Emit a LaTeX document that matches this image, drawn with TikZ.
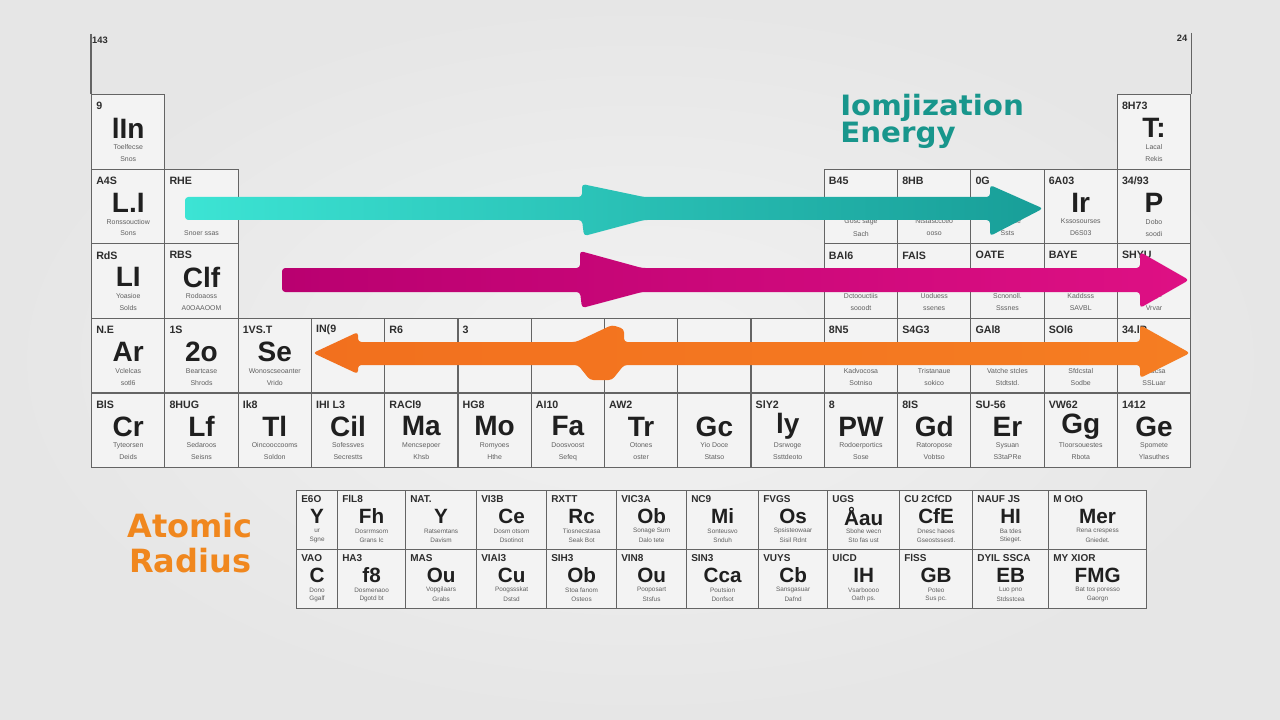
\documentclass[tikz,border=0pt]{standalone}
\usepackage{fontspec}
\setmainfont{Liberation Sans}
\newfontfamily\titlefont{DejaVu Sans}
\usetikzlibrary{calc}
\definecolor{bgc}{RGB}{230,230,230}
\definecolor{bgin}{RGB}{242,242,242}
\definecolor{cellfill}{RGB}{243,243,243}
\definecolor{cellline}{RGB}{100,100,100}
\definecolor{lblc}{RGB}{45,45,45}
\definecolor{dscc}{RGB}{95,95,95}
\definecolor{tealA}{RGB}{60,228,212}
\definecolor{tealB}{RGB}{26,182,170}
\definecolor{tealC}{RGB}{24,158,152}
\definecolor{magA}{RGB}{185,0,112}
\definecolor{magB}{RGB}{200,5,122}
\definecolor{magC}{RGB}{222,16,132}
\definecolor{orA}{RGB}{242,112,30}
\definecolor{orB}{RGB}{245,125,34}
\definecolor{titleteal}{RGB}{24,150,140}
\definecolor{titleorange}{RGB}{240,135,30}
\tikzset{
  cellbox/.style={draw=cellline, fill=cellfill, line width=0.9pt, inner sep=0pt, anchor=north west},
  lbl/.style={anchor=west, inner sep=0pt, text=lblc, font=\bfseries\fontsize{8}{9}\selectfont},
  sym/.style={inner sep=0pt, text=black!88, font=\bfseries\fontsize{21}{22}\selectfont},
  dsc/.style={inner sep=0pt, text=dscc, font=\fontsize{5.2}{6}\selectfont},
  blbl/.style={anchor=west, inner sep=0pt, text=lblc, font=\bfseries\fontsize{7.5}{8}\selectfont},
  bsym/.style={inner sep=0pt, text=black!88, font=\bfseries\fontsize{15.5}{16}\selectfont},
  bdsc/.style={inner sep=0pt, text=dscc, font=\fontsize{4.8}{5}\selectfont},
  topnum/.style={inner sep=0pt, text=lblc, font=\bfseries\fontsize{7}{8}\selectfont},
  frame/.style={draw=cellline, line width=0.9pt},
  ttl/.style={anchor=base west, inner sep=0pt, text=titleteal, font=\titlefont\bfseries\fontsize{20}{22}\selectfont},
  rtl/.style={anchor=base west, inner sep=0pt, text=titleorange, font=\titlefont\bfseries\fontsize{24}{26}\selectfont},
}
% main grid cell: name, col, row, label, symbol, desc1, desc2
\newcommand\pcell[7]{%
  \node[cellbox, minimum width=73.27*0.75pt, minimum height=74.6*0.75pt] (#1) at ({91+73.27*(#2-1)},{94+74.6*(#3-1)}) {};
  \node[lbl] (#1-l) at ($(#1.north west)+(5,12)$) {#4};
  \node[sym] (#1-s) at ($(#1.north)+(0,34)$) {#5};
  \node[dsc] (#1-a) at ($(#1.north)+(0,53)$) {#6};
  \node[dsc] (#1-b) at ($(#1.north)+(0,65)$) {#7};
}
% bottom table cell: name, x0, x1, row, label, symbol, desc1, desc2
\newcommand\bcell[8]{%
  \node[cellbox, minimum width=(#3-#2)*0.75pt, minimum height=59*0.75pt] (#1) at (#2,{490+59*(#4-1)}) {};
  \node[blbl] (#1-l) at ($(#1.north west)+(5,9)$) {#5};
  \node[bsym] (#1-s) at ($(#1.north)+(0,26)$) {#6};
  \node[bdsc] (#1-a) at ($(#1.north)+(0,41)$) {#7};
  \node[bdsc] (#1-b) at ($(#1.north)+(0,50)$) {#8};
}
\begin{document}
\begin{tikzpicture}[x=0.75pt,y=-0.75pt]
\useasboundingbox (0,0) rectangle (1280,720);
\shade[inner color=bgin, outer color=bgc] (0,0) rectangle (1280,720);

% ---- main grid ----
\pcell{r1c1}{1}{1}{9}{lIn}{Toelfecse}{Snos}
\pcell{r1c15}{15}{1}{8H73}{T:}{Lacal}{Rekis}

\pcell{r2c1}{1}{2}{A4S}{L.I}{Ronssouctiow}{Sons}
\pcell{r2c2}{2}{2}{RHE}{}{}{Snoer ssas}
\pcell{r2c11}{11}{2}{B45}{}{Gosc sage}{Sach}
\pcell{r2c12}{12}{2}{8HB}{}{Ntstasccceo}{ooso}
\pcell{r2c13}{13}{2}{0G}{}{Nsescoe}{Ssts}
\pcell{r2c14}{14}{2}{6A03}{Ir}{Kssosourses}{D6S03}
\pcell{r2c15}{15}{2}{34/93}{P}{Dobo}{soodi}

\pcell{r3c1}{1}{3}{RdS}{LI}{Yoasioe}{Solds}
\pcell{r3c2}{2}{3}{RBS}{Clf}{Rodoaoss}{A0OAAOOM}
\pcell{r3c11}{11}{3}{BAl6}{}{Dctoouctiis}{sooodt}
\pcell{r3c12}{12}{3}{FAlS}{}{Uoduess}{ssenes}
\pcell{r3c13}{13}{3}{OATE}{}{Scnonoll.}{Sssnes}
\pcell{r3c14}{14}{3}{BAYE}{}{Kaddsss}{SAVBL}
\pcell{r3c15}{15}{3}{SHYU}{}{Sogs}{Vrvar}

\pcell{r4c1}{1}{4}{N.E}{Ar}{Vclelcas}{sotl6}
\pcell{r4c2}{2}{4}{1S}{2o}{Beartcase}{Shrods}
\pcell{r4c3}{3}{4}{1VS.T}{Se}{Wonoscseoanter}{Vrido}
\pcell{r4c4}{4}{4}{IN(9}{}{}{}
\pcell{r4c5}{5}{4}{R6}{}{}{}
\pcell{r4c6}{6}{4}{3}{}{}{}
\pcell{r4c7}{7}{4}{}{}{}{}
\pcell{r4c8}{8}{4}{}{}{}{}
\pcell{r4c9}{9}{4}{}{}{}{}
\pcell{r4c10}{10}{4}{}{}{}{}
\pcell{r4c11}{11}{4}{8N5}{}{Kadvocosa}{Sotniso}
\pcell{r4c12}{12}{4}{S4G3}{}{Tristanaue}{sokico}
\pcell{r4c13}{13}{4}{GAl8}{}{Vatche stcles}{Stdtstd.}
\pcell{r4c14}{14}{4}{SOl6}{}{Sfdcstal}{Sodbe}
\pcell{r4c15}{15}{4}{34.lP}{}{Sodcsa}{SSLuar}

\pcell{r5c1}{1}{5}{BlS}{Cr}{Tyteorsen}{Deids}
\pcell{r5c2}{2}{5}{8HUG}{Lf}{Sedaroos}{Seisns}
\pcell{r5c3}{3}{5}{Ik8}{Tl}{Oincooccooms}{Soldon}
\pcell{r5c4}{4}{5}{IHI L3}{Cil}{Sofessves}{Secrestts}
\pcell{r5c5}{5}{5}{RACl9}{Ma}{Mencsepoer}{Khsb}
\pcell{r5c6}{6}{5}{HG8}{Mo}{Romyoes}{Hthe}
\pcell{r5c7}{7}{5}{AI10}{Fa}{Doosvoost}{Sefeq}
\pcell{r5c8}{8}{5}{AW2}{Tr}{Otones}{oster}
\pcell{r5c9}{9}{5}{}{Gc}{Yio Doce}{Statso}
\pcell{r5c10}{10}{5}{SlY2}{ly}{Dsrwoge}{Ssttdeoto}
\pcell{r5c11}{11}{5}{8}{PW}{Rodoerportics}{Sose}
\pcell{r5c12}{12}{5}{8IS}{Gd}{Ratoropose}{Vobtso}
\pcell{r5c13}{13}{5}{SU-56}{Er}{Sysuan}{S3taPRe}
\pcell{r5c14}{14}{5}{VW62}{Gg}{Tloorsouestes}{Rbota}
\pcell{r5c15}{15}{5}{1412}{Ge}{Spomete}{Ylasuthes}

% top markers
\path (r1c1.north west) ++(0,-60) coordinate (tl);
\path (r1c15.north east) ++(0,-61) coordinate (tr);
\draw[frame] (tl) -- (r1c1.north west);
\draw[frame] (tr) -- (r1c15.north east);
\node[topnum] (n143) at (100,40.5) {143};
\node[topnum] (n24) at (1182,38.5) {24};

% ---- bottom table ----
\bcell{b1c1}{296}{337}{1}{E6O}{Y}{ur}{Sgne}
\bcell{b1c2}{337}{405}{1}{FlL8}{Fh}{Dosrrmsom}{Grans Ic}
\bcell{b1c3}{405}{476}{1}{NAT.}{Y}{Ratsemtans}{Davism}
\bcell{b1c4}{476}{546}{1}{VI3B}{Ce}{Dosm otsom}{Dsotinot}
\bcell{b1c5}{546}{616}{1}{RXTT}{Rc}{Tiosnecstasa}{Seak Bot}
\bcell{b1c6}{616}{686}{1}{VIC3A}{Ob}{Sonage Sum}{Dalo tete}
\bcell{b1c7}{686}{758}{1}{NC9}{Mi}{Sonteusvo}{Snduh}
\bcell{b1c8}{758}{827}{1}{FVGS}{Os}{Spsisteowaar}{Sisil Rdnt}
\bcell{b1c9}{827}{899}{1}{UGS}{Åau}{Sbohe wecn}{Sto fas ust}
\bcell{b1c10}{899}{972}{1}{CU 2CfCD}{CfE}{Dnesc haoes}{Gseostssestl.}
\bcell{b1c11}{972}{1048}{1}{NAUF JS}{HI}{Ba tdes}{Stieget.}
\bcell{b1c12}{1048}{1146}{1}{M OtO}{Mer}{Rena crespess}{Gniedet.}

\bcell{b2c1}{296}{337}{2}{VAO}{C}{Dono}{Ggalf}
\bcell{b2c2}{337}{405}{2}{HA3}{f8}{Dosmenaoo}{Dgotd bt}
\bcell{b2c3}{405}{476}{2}{MAS}{Ou}{Vopgilaars}{Grabs}
\bcell{b2c4}{476}{546}{2}{VIAl3}{Cu}{Poogssskat}{Dstsd}
\bcell{b2c5}{546}{616}{2}{SIH3}{Ob}{Stoa fanom}{Osteos}
\bcell{b2c6}{616}{686}{2}{VIN8}{Ou}{Pooposart}{Stsfus}
\bcell{b2c7}{686}{758}{2}{SIN3}{Cca}{Poutsion}{Donfsot}
\bcell{b2c8}{758}{827}{2}{VUYS}{Cb}{Sansgasuar}{Dafnd}
\bcell{b2c9}{827}{899}{2}{UlCD}{IH}{Vsarboooo}{Oath ps.}
\bcell{b2c10}{899}{972}{2}{FlSS}{GB}{Poteo}{Sus pc.}
\bcell{b2c11}{972}{1048}{2}{DYIL SSCA}{EB}{Luo pno}{Stdsstcea}
\bcell{b2c12}{1048}{1146}{2}{MY XIOR}{FMG}{Bat tos poresso}{Gaorgn}

% ---- titles ----
\node[ttl] (ion1) at (840,116) {\scalebox{1.1}[1.05]{Iomjization}};
\node[ttl] (ion2) at (840,143) {\scalebox{1.1}[1.05]{Energy}};
\node[rtl] (rad1) at (127,537) {Atomic};
\node[rtl] (rad2) at (129,572) {Radius};

% ---- arrows ----
\shade[left color=tealA, middle color=tealB, right color=tealC, rounded corners=2.5pt]
  (185,197) -- (582,197) -- (582,184) -- (644,197) -- (990,197) -- (990,185)
  -- (1043,208.5) -- (990,236) -- (990,220) -- (644,220) -- (584,236) -- (582,220)
  -- (185,220) -- cycle;
\shade[left color=magA, middle color=magB, right color=magC, rounded corners=2.5pt]
  (282,268) -- (580,268) -- (580,251) -- (642,268) -- (1140,268) -- (1140,252)
  -- (1189,280) -- (1140,308) -- (1140,292) -- (642,292) -- (582,308) -- (580,292)
  -- (282,292) -- cycle;
\shade[left color=orA, right color=orB, rounded corners=2.5pt]
  (313,353) -- (358,332) -- (358,342) -- (576,342) -- (612,325) -- (624,329)
  -- (624,342) -- (1140,342) -- (1140,325) -- (1190,353) -- (1140,378) -- (1140,365)
  -- (624,365) -- (612,380) -- (590,380) -- (578,365) -- (358,365) -- (358,374) -- cycle;
\end{tikzpicture}
\end{document}
